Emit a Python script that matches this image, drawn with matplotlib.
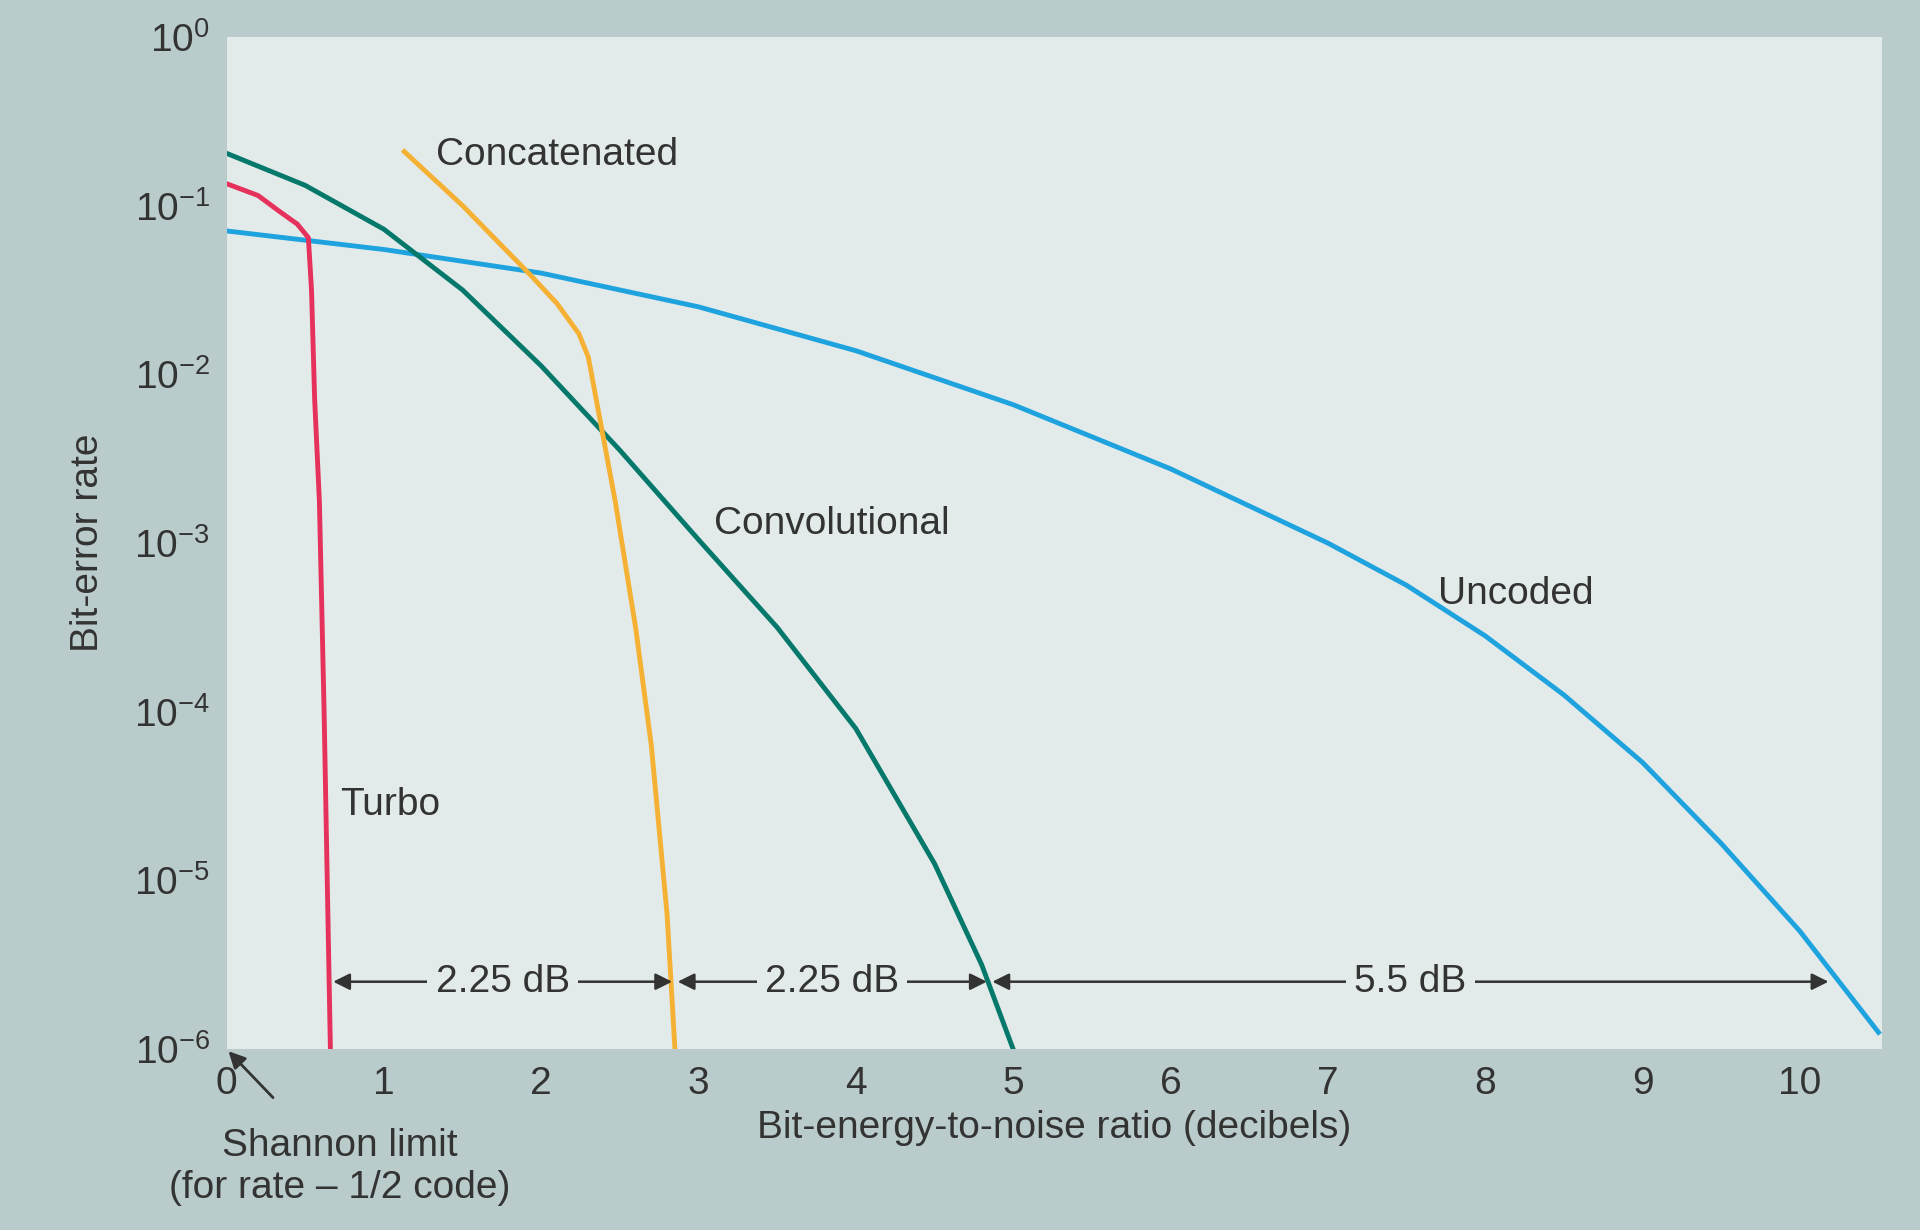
import matplotlib.pyplot as plt
import numpy as np

plt.rcParams.update({'font.family': 'Liberation Sans', 'font.size': 28})

# curves: (Eb/N0 in dB, log10 BER)
uncoded_x = [0, 1, 2, 3, 4, 5, 6, 7, 7.5, 8, 8.5, 9, 9.5, 10, 10.5]
uncoded_y = [-1.15, -1.26, -1.40, -1.60, -1.86, -2.18, -2.56, -3.0, -3.25, -3.55, -3.9, -4.3, -4.78, -5.3, -5.9]

conv_x = [0, 0.5, 1, 1.5, 2, 2.5, 3, 3.5, 4, 4.5, 4.8, 5]
conv_y = [-0.69, -0.88, -1.14, -1.5, -1.95, -2.45, -2.98, -3.5, -4.1, -4.9, -5.5, -6.0]

concat_x = [1.13, 1.5, 1.93, 2.1, 2.24, 2.3, 2.35, 2.41, 2.47, 2.6, 2.7, 2.8, 2.85]
concat_y = [-0.68, -1.0, -1.41, -1.58, -1.76, -1.9, -2.15, -2.45, -2.75, -3.5, -4.2, -5.2, -6.0]

turbo_x = [0, 0.2, 0.33, 0.45, 0.52, 0.54, 0.56, 0.59, 0.62, 0.66]
turbo_y = [-0.87, -0.94, -1.03, -1.11, -1.19, -1.5, -2.15, -2.75, -4.0, -6.0]

gap_y = 10 ** -5.6
gaps = [(0.66, 2.85, '2.25 dB'), (2.85, 4.85, '2.25 dB'), (4.85, 10.2, '5.5 dB')]

fig = plt.figure(figsize=(19.2, 12.3), dpi=100, facecolor='#b9cbcb')
ax = fig.add_axes([0.118, 0.147, 0.862, 0.823], facecolor='#e3eaea')

ax.plot(uncoded_x, 10 ** np.array(uncoded_y), color='#1ea3df', lw=3.5)
ax.plot(conv_x, 10 ** np.array(conv_y), color='#04786a', lw=3.5)
ax.plot(concat_x, 10 ** np.array(concat_y), color='#f5b134', lw=3.5)
ax.plot(turbo_x, 10 ** np.array(turbo_y), color='#e5315b', lw=3.5)

ax.set_yscale('log')
ax.set_xlim(0, 10.52)
ax.set_ylim(1e-6, 1)
ax.set_xticks(range(11))
ax.set_yticks([10.0 ** -k for k in range(7)])
ax.minorticks_off()
for s in ax.spines.values():
    s.set_visible(False)
ax.tick_params(length=0, pad=12, colors='#333333')
ax.set_xlabel('Bit-energy-to-noise ratio (decibels)', color='#333333', labelpad=6)
ax.set_ylabel('Bit-error rate', color='#333333', labelpad=20)

ax.text(1.33, 0.2, 'Concatenated', va='center', color='#333333')
ax.text(3.1, 1e-3 * 1.3, 'Convolutional', va='center', color='#333333')
ax.text(7.7, 10 ** -3.3, 'Uncoded', va='center', color='#333333')
ax.text(0.72, 10 ** -4.55, 'Turbo', va='center', color='#333333')

for x0, x1, lab in gaps:
    ax.annotate('', xy=(x0, gap_y), xytext=(x1, gap_y),
                arrowprops=dict(arrowstyle='<|-|>', color='#333333', lw=1.8, mutation_scale=25))
    ax.text((x0 + x1) / 2, gap_y, lab, ha='center', va='center', color='#333333',
            bbox=dict(facecolor='#e3eaea', edgecolor='none', pad=6))

ax.annotate('Shannon limit\n(for rate – 1/2 code)', xy=(0, 1e-6), xytext=(0.72, 10 ** -6.7),
            ha='center', va='center', color='#333333', annotation_clip=False,
            arrowprops=dict(arrowstyle='-|>', color='#333333', lw=2, mutation_scale=25,
                            shrinkA=28))

fig.savefig('out.png', dpi=100, facecolor=fig.get_facecolor())
